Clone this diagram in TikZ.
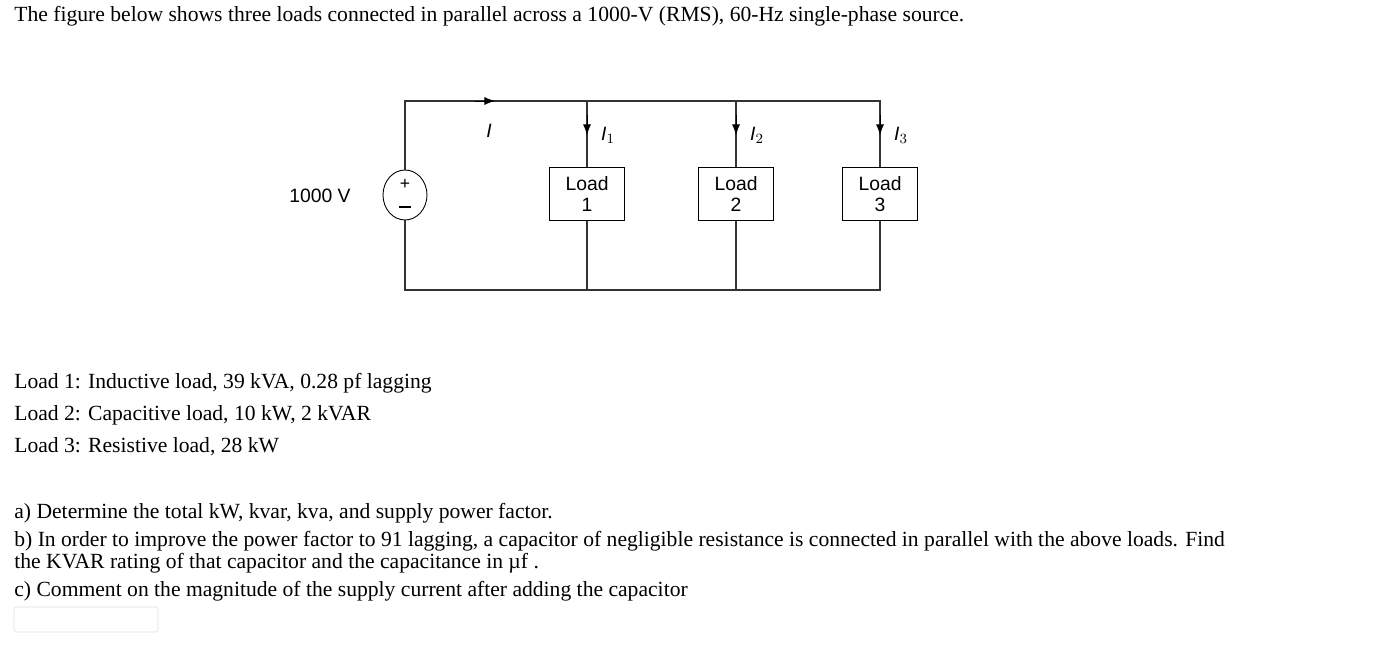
\documentclass[tikz,border=0pt]{standalone}
\usepackage{fontspec}
\setmainfont{Liberation Serif}
\newfontfamily\circfont{Liberation Sans}
\usetikzlibrary{arrows.meta,shapes.geometric}

\begin{document}
\begin{tikzpicture}
	[x=0.02cm,y=-0.02cm,every node/.style={inner sep=0pt}]
	\tikzset{wire/.style={line width=0.6pt,black!80},
		load/.style={draw,line width=0.5pt,minimum width=1.5cm,minimum height=1.06cm,align=center,font=\circfont\fontsize{11}{11.5}\selectfont,fill=white},
		txt/.style={anchor=base west,font=\fontsize{12.3}{14}\selectfont},
		cur/.style={font=\circfont\itshape\fontsize{11}{11}\selectfont},
		flow/.style={-{Latex[length=6pt,width=4.5pt]}}}
	\useasboundingbox (0,0) rectangle (1398,655);

	\node[txt] (head) at (14,22) {The figure below shows three loads connected in parallel across a 1000-V (RMS), 60-Hz single-phase source.};

	% circuit
	\coordinate (tl) at (405,101);
	\coordinate (bl) at (405,290);
	\coordinate (tr) at (880,101);
	\coordinate (br) at (880,290);
	\node[draw,ellipse,line width=0.5pt,minimum width=0.88cm,minimum height=1.0cm,fill=white] (src) at (405,195) {};
	\node[font=\circfont\fontsize{10}{10}\selectfont] (plus) at (405,184) {+};
	\draw[line width=0.8pt] (399,207) -- (411,207);
	\node[font=\circfont\fontsize{11}{11}\selectfont] (vs) at (320,196) {1000 V};
	\node[load] (l1) at (587,194) {Load\\1};
	\node[load] (l2) at (736,194) {Load\\2};
	\node[load] (l3) at (880,194) {Load\\3};
	\coordinate (t1) at (587,101);
	\coordinate (t2) at (736,101);
	\coordinate (b1) at (587,290);
	\coordinate (b2) at (736,290);
	\draw[wire] (src.north) -- (tl) -- (tr) -- (l3.north);
	\draw[wire] (src.south) -- (bl) -- (br) -- (l3.south);
	\draw[wire] (t1) -- (l1.north);
	\draw[wire] (t2) -- (l2.north);
	\draw[wire] (b1) -- (l1.south);
	\draw[wire] (b2) -- (l2.south);
	\coordinate (ia) at (475,101);
	\coordinate (ib) at (495,101);
	\draw[flow] (ia) -- (ib);
	\foreach \x/\n in {587/1,736/2,880/3}{
		\coordinate (a\n) at (\x,115);
		\coordinate (e\n) at (\x,135);
		\draw[flow] (a\n) -- (e\n);
		\node[cur] (i\n) at (\x+21,135) {I$_{\n}$};
	}
	\node[cur] (i) at (489,131) {I};

	% text
	\node[txt] (t1a) at (14,388) {Load 1: Inductive load, 39 kVA, 0.28 pf lagging};
	\node[txt] (t2a) at (14,420) {Load 2: Capacitive load, 10 kW, 2 kVAR};
	\node[txt] (t3a) at (14,452) {Load 3: Resistive load, 28 kW};
	\node[txt] (qa) at (14,518) {a) Determine the total kW, kvar, kva, and supply power factor.};
	\node[txt] (qb) at (14,546) {b) In order to improve the power factor to 91 lagging, a capacitor of negligible resistance is connected in parallel with the above loads. Find};
	\node[txt] (qb2) at (14,568) {the KVAR rating of that capacitor and the capacitance in µf .};
	\node[txt] (qc) at (14,596) {c) Comment on the magnitude of the supply current after adding the capacitor};
	\draw[black!12,rounded corners=1pt] (14,607) rectangle (158,632);
\end{tikzpicture}
\end{document}
